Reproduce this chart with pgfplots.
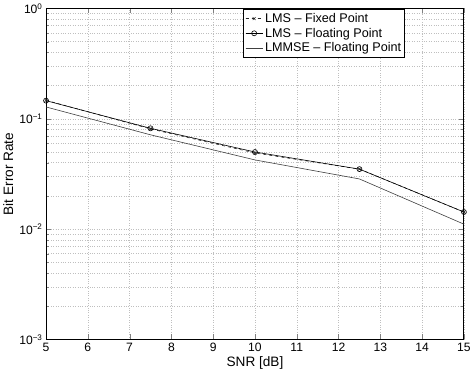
\documentclass[border=0pt]{standalone}
\usepackage{fontspec}
\setmainfont{Liberation Sans}
\usepackage{pgfplots}
\pgfplotsset{compat=1.18}
\begin{document}
\begin{tikzpicture}
\begin{axis}[
  scale only axis,
  width=414pt, height=328pt,
  xmin=5, xmax=15, ymin=1e-3, ymax=1,
  ymode=log,
  xtick={5,6,...,15},
  ytick={1e-3,1e-2,1e-1,1},
  yticklabels={10\textsuperscript{−3},10\textsuperscript{−2},10\textsuperscript{−1},10\textsuperscript{0}},
  /pgf/number format/assume math mode=true,
  xticklabel style={font=\fontsize{12}{14}\selectfont},
  yticklabel style={font=\fontsize{12}{14}\selectfont},
  tick align=inside,
  xtick pos=both, ytick pos=both,
  major tick length=5pt, minor tick length=3pt,
  grid=both,
  major grid style={dotted, gray!50, line width=0.5pt},
  minor grid style={dotted, gray!50, line width=0.5pt},
  minor x tick num=0,
  axis line style={line width=0.8pt},
  xlabel={SNR [dB]}, ylabel={Bit Error Rate},
  xlabel style={font=\fontsize{13.5}{16}\selectfont, yshift=2pt},
  ylabel style={font=\fontsize{13.5}{16}\selectfont, yshift=-1pt},
  legend cell align=left,
  legend style={at={(0.859,0.997)}, anchor=north east, draw=black, line width=0.6pt, inner sep=1.5pt, row sep=0pt, font=\fontsize{12.5}{14}\selectfont},
  legend image code/.code={\draw[#1] (0cm,0cm) -- (0.6cm,0cm); \path[#1,mark repeat=2,mark phase=2] plot coordinates {(0cm,0cm)(0.3cm,0cm)(0.6cm,0cm)};},
]
\addplot[black!85, dashed, line width=0.6pt, mark=x, mark size=2pt, mark options={solid}] coordinates {
(5,0.147) (7.5,0.081) (10,0.049) (12.5,0.035) (15,0.0143)};
\addlegendentry{LMS -- Fixed Point}
\addplot[black, line width=0.6pt, mark=o, mark size=2.5pt] coordinates {
(5,0.146) (7.5,0.082) (10,0.050) (12.5,0.035) (15,0.0143)};
\addlegendentry{LMS -- Floating Point}
\addplot[black!75, line width=0.6pt] coordinates {
(5,0.128) (7.5,0.0716) (10,0.0424) (12.5,0.0285) (15,0.0111)};
\addlegendentry{LMMSE -- Floating Point}
\end{axis}
\end{tikzpicture}
\end{document}
